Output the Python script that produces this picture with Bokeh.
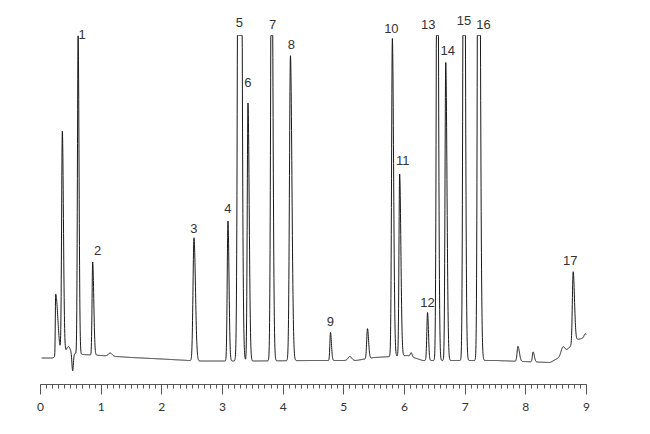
import numpy as np
from bokeh.plotting import figure
from bokeh.models import Range1d, FixedTicker, ColumnDataSource
from bokeh.core.properties import value
from bokeh.embed import file_html
from bokeh.resources import INLINE

# ---- data ----
peak_times = [0.25, 0.36, 0.46, 0.53, 0.62, 0.86, 1.15, 2.53, 3.09, 3.28, 3.42, 3.81, 4.12,
              4.78, 5.10, 5.39, 5.80, 5.92, 6.11, 6.38, 6.54, 6.68, 6.98, 7.22, 7.87, 8.12,
              8.61, 8.78, 8.98]
peak_heights = [62, 222, 6, -18, 318, 93, 3, 123, 140, 1500, 258, 500, 305,
                28, 4, 30, 318, 182, 4, 48, 600, 298, 700, 800, 15, 10,
                7, 72, 4]
sigma_left = [0.006, 0.012, 0.03, 0.012, 0.011, 0.010, 0.03, 0.016, 0.012, 0.020, 0.012, 0.015, 0.016,
              0.010, 0.03, 0.013, 0.013, 0.011, 0.015, 0.012, 0.014, 0.012, 0.015, 0.015, 0.014, 0.012,
              0.03, 0.013, 0.02]
sigma_right = [0.035, 0.018, 0.03, 0.012, 0.015, 0.018, 0.03, 0.024, 0.017, 0.026, 0.020, 0.020, 0.024,
               0.016, 0.03, 0.018, 0.020, 0.020, 0.015, 0.015, 0.018, 0.020, 0.020, 0.024, 0.024, 0.020,
               0.03, 0.022, 0.02]
peak_labels = ["", "", "", "", "1", "2", "", "3", "4", "5", "6", "7", "8",
               "9", "", "", "10", "11", "", "12", "13", "14", "15", "16", "", "",
               "", "17", ""]
baseline_t = [0.0, 0.2, 0.3, 0.45, 0.7, 1.0, 1.5, 2.0, 2.6, 3.5, 4.5, 5.2, 5.5, 5.8, 6.05,
              6.3, 7.5, 8.4, 8.55, 8.85, 9.0]
baseline_v = [-0.5, -0.5, 3, 5, 3, 2, 0, -1.5, -3.5, -3.5, -3, -3, 0, 1, 2,
              -3, -3, -5, 0, 18, 20]
detector_max = 322
x_ticks = list(range(10))
x_minor = [round(i * 0.1, 1) for i in range(91)]

# label placement (screen px): horizontal shift, height above apex
label_dx = [4, 5, 0, 0, 0, 0, 1, 1, 0, -1, 3, 0, -9, 2, 0, 5, -3]
label_dy = [1, 12, 9, 13, 13, 21, 11, 11, 11, 10, 14, 10, 11, 12, 15, 11, 11]

# ---- build trace from peak table ----
t = np.arange(0.02, 9.0001, 0.002)
sig = np.interp(t, baseline_t, baseline_v)
for tc, h, sl, sr in zip(peak_times, peak_heights, sigma_left, sigma_right):
    s = np.where(t < tc, sl, sr)
    sig = sig + h * np.exp(-0.5 * ((t - tc) / s) ** 2)
sig = np.minimum(sig, detector_max)

lx, ly, lt, xo = [], [], [], []
k = 0
for tc, h, lab in zip(peak_times, peak_heights, peak_labels):
    if lab:
        base = float(np.interp(tc, baseline_t, baseline_v))
        lx.append(tc)
        ly.append(min(h + base, detector_max) + label_dy[k])
        lt.append(lab)
        xo.append(label_dx[k])
        k += 1

p = figure(width=642, height=426, output_backend="svg", toolbar_location=None,
           x_range=Range1d(0, 9), y_range=Range1d(-27, 347),
           y_axis_location=None, min_border_left=40, min_border_right=56,
           min_border_top=10, min_border_bottom=42)
p.outline_line_color = None
p.grid.visible = False
p.background_fill_color = "white"
p.border_fill_color = "white"

p.line(t, sig, line_color="#1a1a1a", line_width=1)

src = ColumnDataSource(dict(x=lx, y=ly, text=lt, xo=xo))
p.text(x="x", y="y", text="text", x_offset="xo", source=src,
       text_font=value("Liberation Sans"), text_font_size="13px",
       text_color="#333333", text_align="center", text_baseline="middle")

ax = p.xaxis[0]
ax.ticker = FixedTicker(ticks=x_ticks, minor_ticks=x_minor)
ax.axis_line_color = "#555555"
ax.major_tick_line_color = "#555555"
ax.minor_tick_line_color = "#555555"
ax.major_tick_in = 0
ax.major_tick_out = 10
ax.minor_tick_in = 0
ax.minor_tick_out = 4
ax.major_label_standoff = 8
ax.major_label_text_font = "Lato"
ax.major_label_text_font_size = "12px"
ax.major_label_text_color = "#333333"

open("out.html", "w").write(file_html(p, INLINE))
